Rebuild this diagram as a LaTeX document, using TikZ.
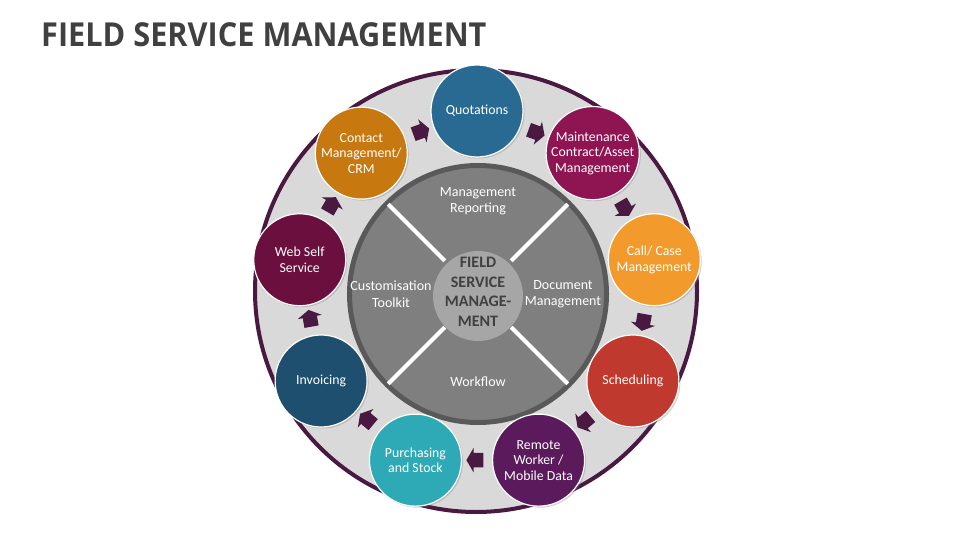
\documentclass[tikz,border=0pt]{standalone}
\usepackage{fontspec}
\setmainfont{Carlito}
\newfontfamily\titlefont[FakeStretch=0.93]{Open Sans}
\usetikzlibrary{shapes.arrows,shadows,calc}
\definecolor{titlegray}{HTML}{404040}
\definecolor{ringfill}{HTML}{D9D9D9}
\definecolor{ringcol}{HTML}{4A1942}
\definecolor{hubfill}{HTML}{7F7F7F}
\definecolor{hubborder}{HTML}{595959}
\definecolor{corefill}{HTML}{A6A6A6}
\definecolor{arrowcol}{HTML}{4A1942}
\definecolor{cQuot}{HTML}{286A92}
\definecolor{cMaint}{HTML}{8E1552}
\definecolor{cCall}{HTML}{F29B2C}
\definecolor{cSched}{HTML}{C0392E}
\definecolor{cRemote}{HTML}{5B1A5C}
\definecolor{cPurch}{HTML}{2EAAB7}
\definecolor{cInv}{HTML}{1E4F6E}
\definecolor{cWeb}{HTML}{6B0F3E}
\definecolor{cContact}{HTML}{C7780F}
\begin{document}
\begin{tikzpicture}[x=1pt,y=1pt,
  sat/.style={circle, minimum size=92pt, inner sep=0pt, draw=white, line width=1.2pt,
    text=white, align=center, font=\fontsize{13.8}{15.5}\selectfont,
    drop shadow={shadow xshift=1.5pt, shadow yshift=-1.5pt, opacity=0.35}},
  seglabel/.style={text=white, align=center, font=\fontsize{14}{16.5}\selectfont, inner sep=0pt},
  flowarrow/.style={single arrow, fill=arrowcol, draw=none, inner xsep=0pt, inner ysep=7pt,
    minimum height=17pt, single arrow head extend=5pt, single arrow tip angle=119,
    sloped, allow upside down, midway},
  divider/.style={white, line width=4pt}
]
\useasboundingbox (0,0) rectangle (960,-540);
\node[anchor=base west, font=\titlefont\bfseries\fontsize{33}{39}\selectfont, text=titlegray, inner sep=0pt]
  (title) at (41,-46.7) {FIELD SERVICE MANAGEMENT};

\coordinate (o) at (477,-291);
\node[circle, minimum size=442pt, draw=ringcol, line width=4pt, fill=ringfill] (ring) at (476,-291) {};
\node[circle, minimum size=257pt, fill=hubfill, draw=hubborder, line width=5pt,
  drop shadow={shadow xshift=0pt, shadow yshift=-2pt, opacity=0.3}] (hub) at (478,-294) {};
\foreach \a in {45,135,225,315}{
  \draw[divider] ($(hub.center)+(\a:47)$) -- ($(hub.center)+(\a:127)$);
}
\node[circle, minimum size=90pt, inner sep=0pt, fill=corefill] (core) at (478,-296) {};
\node[text=titlegray, align=center, inner sep=0pt,
  font=\bfseries\fontsize{16}{19.5}\selectfont] (coretext) at (478,-292) {FIELD\\SERVICE\\MANAGE-\\MENT};

\node[seglabel] (mr) at (478,-201) {Management\\Reporting};
\node[seglabel] (ct) at (391,-294) {Customisation\\Toolkit};
\node[seglabel] (dm) at (563,-294) {Document\\Management};
\node[seglabel] (wf) at (478,-382) {Workflow};

\node[sat, fill=cQuot]    (quot)    at ($(o)+(90:180)$)  {Quotations};
\node[sat, fill=cMaint]   (maint)   at ($(o)+(50:180)$)  {Maintenance\\Contract/Asset\\Management};
\node[sat, fill=cCall]    (call)    at ($(o)+(10:180)$)  {Call/ Case\\Management};
\node[sat, fill=cSched]   (sched)   at ($(o)+(-30:180)$) {Scheduling};
\node[sat, fill=cRemote]  (remote)  at ($(o)+(-70:180)$) {Remote\\Worker /\\Mobile Data};
\node[sat, fill=cPurch]   (purch)   at ($(o)+(-110:180)$) {Purchasing\\and Stock};
\node[sat, fill=cInv]     (inv)     at ($(o)+(-150:180)$) {Invoicing};
\node[sat, fill=cWeb]     (web)     at ($(o)+(170:180)$) {Web Self\\Service};
\node[sat, fill=cContact] (contact) at ($(o)+(130:180)$) {Contact\\Management/\\CRM};

\path (contact) -- node[flowarrow] (a1) {} (quot);
\path (quot) -- node[flowarrow] (a2) {} (maint);
\path (maint) -- node[flowarrow] (a3) {} (call);
\path (call) -- node[flowarrow] (a4) {} (sched);
\path (sched) -- node[flowarrow] (a5) {} (remote);
\path (remote) -- node[flowarrow] (a6) {} (purch);
\path (purch) -- node[flowarrow] (a7) {} (inv);
\path (inv) -- node[flowarrow] (a8) {} (web);
\path (web) -- node[flowarrow] (a9) {} (contact);
\end{tikzpicture}
\end{document}
